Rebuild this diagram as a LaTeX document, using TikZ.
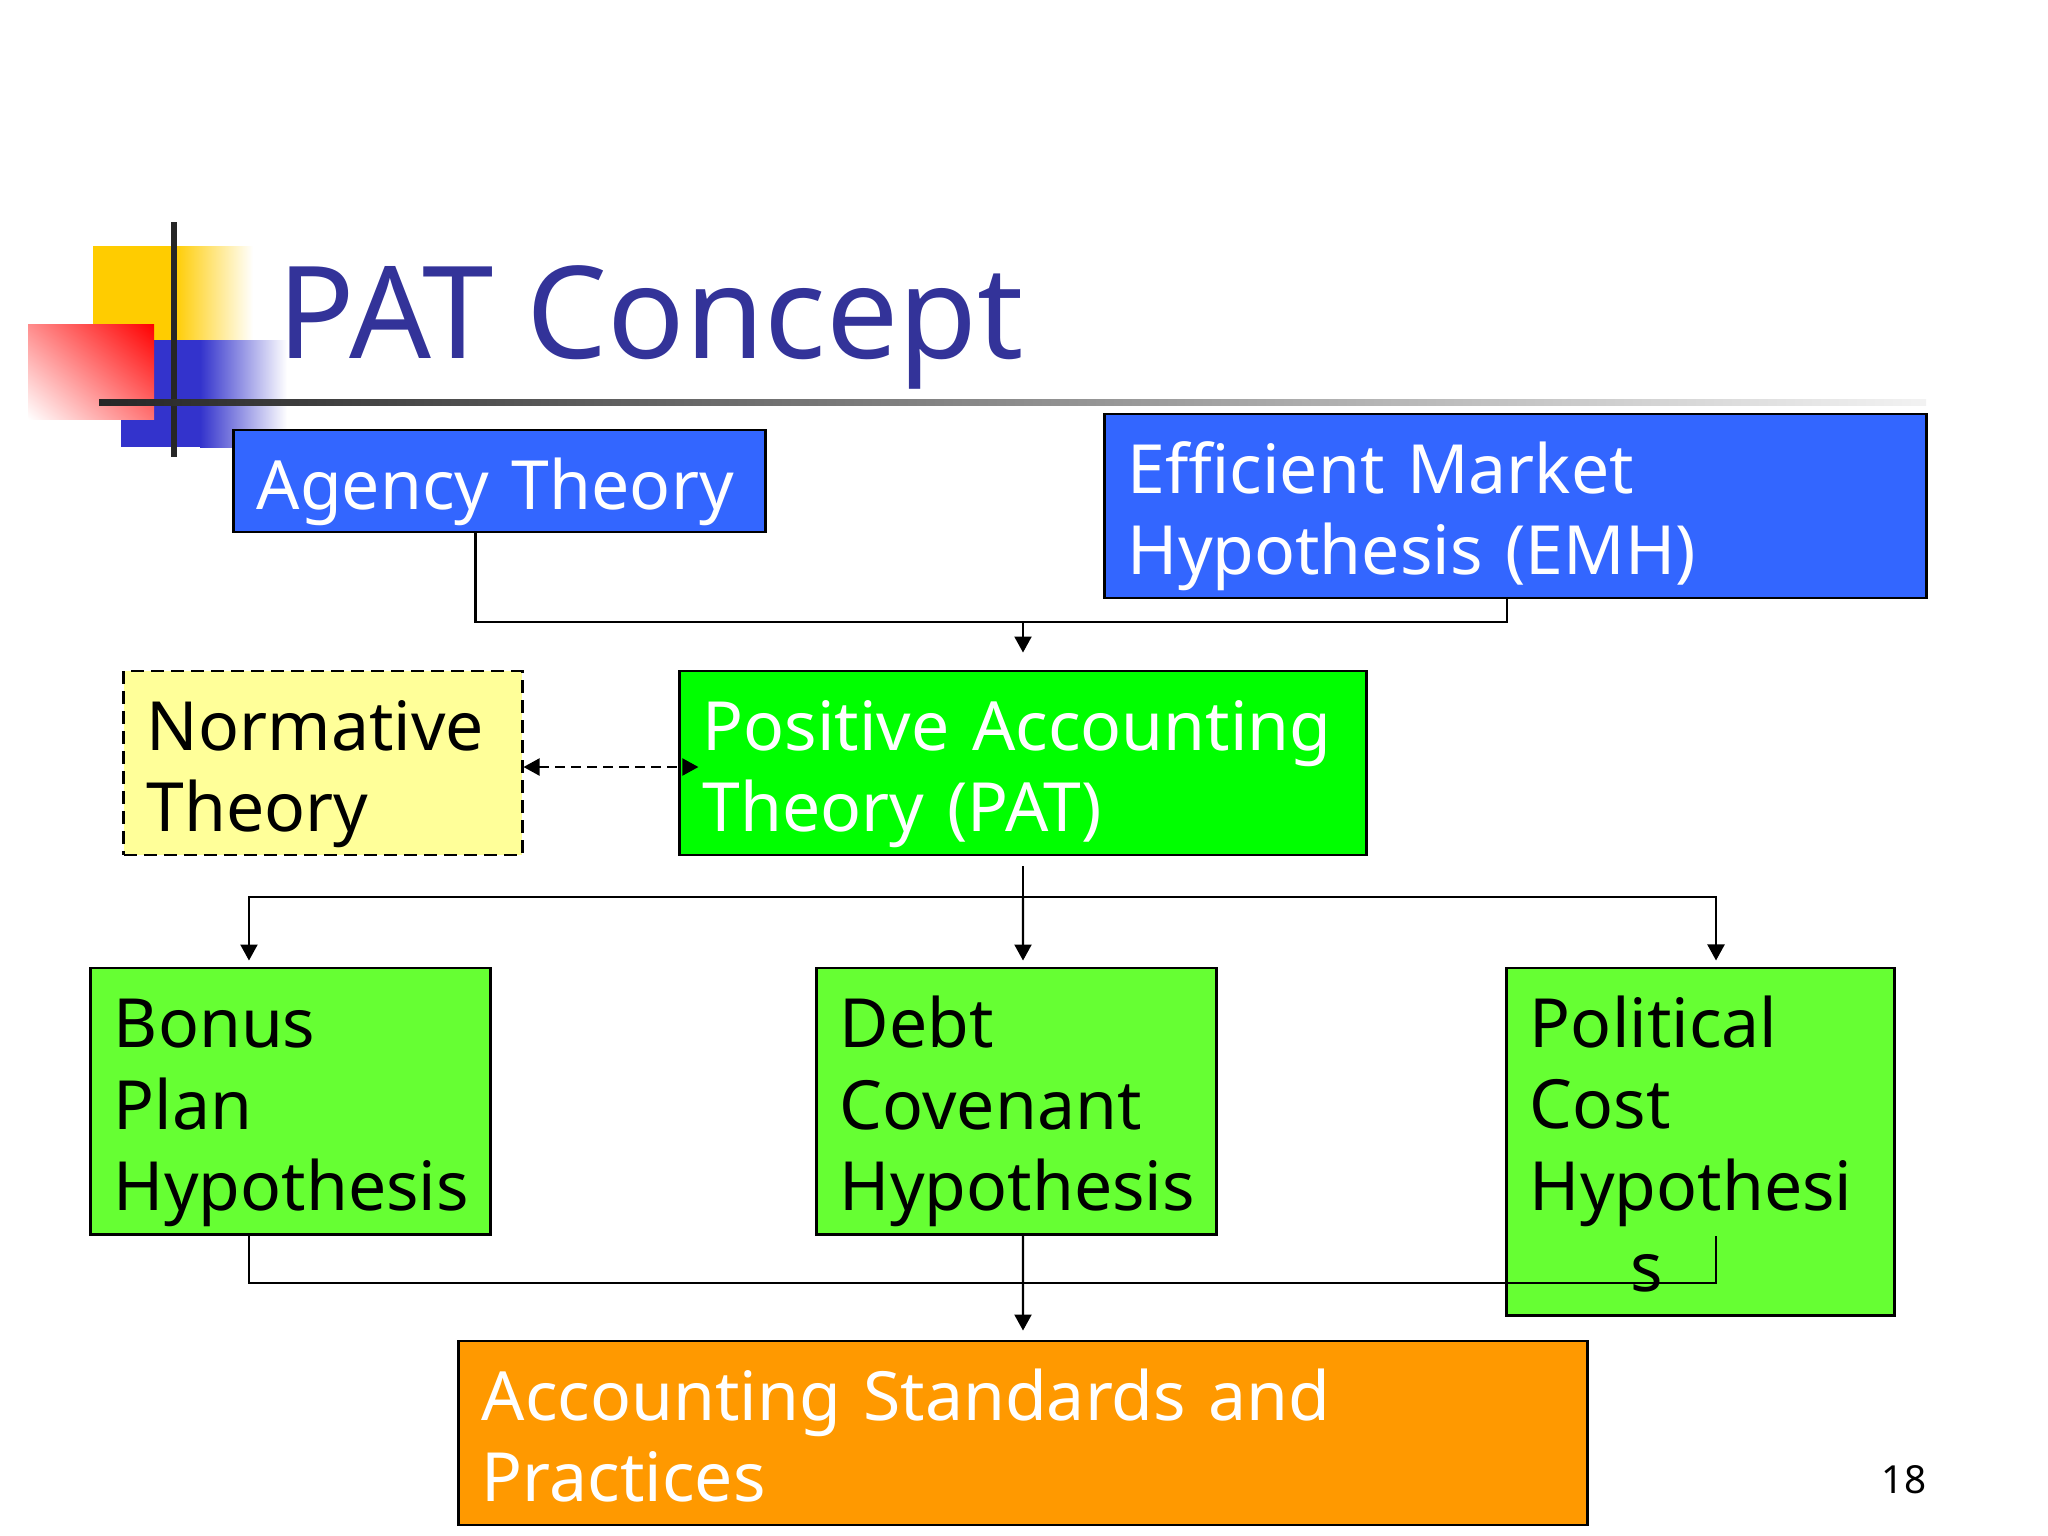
\documentclass[tikz,border=0pt]{standalone}
\usepackage{fontspec}
\setmainfont{Noto Sans}
\usepackage{xcolor}
\usepackage{tikz}
\usetikzlibrary{shapes,arrows,positioning,calc,arrows.meta,shadings}
\definecolor{titleblue}{RGB}{51,51,153}
\definecolor{theoryblue}{RGB}{51,102,255}
\definecolor{patgreen}{RGB}{0,255,0}
\definecolor{hypgreen}{RGB}{102,255,51}
\definecolor{normyellow}{RGB}{255,255,153}
\definecolor{stdorange}{RGB}{255,153,0}
\definecolor{logoyellow}{RGB}{255,204,0}
\definecolor{logoblue}{RGB}{51,51,204}
\newcommand{\firststrut}{\rule{0pt}{0.76cm}}
\newcommand{\laststrut}{\rule[-0.2cm]{0pt}{0pt}}
\tikzstyle{arrow} = [-{Triangle[length=1.6mm,width=1.7mm]}, line width=0.6pt]
\tikzstyle{block} = [rectangle, draw, line width=0.8pt, align=left, inner xsep=0.23cm, inner ysep=0pt,
    font={\fontsize{19.3}{23.2}\selectfont\hyphenpenalty=10000\exhyphenpenalty=10000},
    execute at begin node={\firststrut}, execute at end node={\laststrut}]

\begin{document}
\begin{tikzpicture}[x=0.01cm, y=-0.01cm]
    \useasboundingbox (0,0) rectangle (2048,1536);

    % Logo squares
    \fill[logoyellow] (93,246) rectangle (174,340);
    \shade[left color=logoyellow, right color=white] (174,246) rectangle (253,340);
    \fill[logoblue] (121,340) rectangle (200,447);
    \shade[left color=logoblue, right color=white] (200,340) rectangle (287,447);
    \shade[upper right=red, lower left=white, upper left=red!45, lower right=red!55] (28,324) rectangle (154,419);
    \fill[black!85] (171,222) rectangle (177,457);
    \shade[left color=black!85, middle color=black!70, right color=black!5] (99,399) rectangle (1926,405);

    % Title
    \node[anchor=base west, inner sep=0pt, text=titleblue, font=\fontsize{36.5}{40}\selectfont] (title) at (277,358) {PAT Concept};

    % Theories
    \node[block, fill=theoryblue, text=white, text width=4.85cm, minimum height=1.02cm] (agency) at (499.5,481) {Agency Theory};
    \node[block, fill=theoryblue, text=white, text width=7.75cm, minimum height=1.84cm] (emh) at (1515.5,506) {Efficient Market\\Hypothesis (EMH)};
    \node[block, dash pattern=on 0.13cm off 0.07cm, fill=normyellow, text width=3.52cm, minimum height=1.84cm] (normative) at (323,763) {Normative\\Theory};
    \node[block, fill=patgreen, text=white, text width=6.40cm, minimum height=1.84cm] (pat) at (1023,763) {Positive Accounting\\Theory (PAT)};

    % Hypotheses
    \node[block, fill=hypgreen, text width=3.53cm, minimum height=2.66cm] (bonus) at (290.5,1101) {Bonus\\Plan\\Hypothesis};
    \node[block, fill=hypgreen, text width=3.53cm, minimum height=2.66cm] (debt) at (1016.5,1101) {Debt\\Covenant\\Hypothesis};
    \node[block, fill=hypgreen, text width=3.41cm, minimum height=3.47cm] (political) at (1700.5,1141.5) {Political\\Cost\\Hypothesi\\\hspace*{1.01cm}s};

    % Standards
    \node[block, fill=stdorange, text=white, text width=10.82cm, minimum height=1.84cm] (standards) at (1023,1433) {Accounting Standards and\\Practices};
    \node[font=\fontsize{11}{13}\selectfont] (page) at (1904,1480) {18};

    % Arrows
    \coordinate (join) at (1023,622);
    \draw[line width=0.6pt] ([xshift=-0.24cm]agency.south) |- (join) -| ([xshift=-0.085cm]emh.south);
    \draw[arrow] (join) -- ([yshift=0.17cm]pat.north);
    \draw[{Triangle[length=1.6mm,width=1.7mm]}-{Triangle[length=1.6mm,width=1.7mm]}, line width=0.6pt, dash pattern=on 0.1cm off 0.06cm] ([yshift=-0.04cm]normative.east) -- ([xshift=0.2cm,yshift=-0.04cm]pat.west);

    \coordinate (split) at (1023,897);
    \draw[line width=0.6pt] ([yshift=-0.1cm]pat.south) -- (split);
    \draw[arrow] (split) -| ([xshift=-0.415cm,yshift=0.06cm]bonus.north);
    \draw[arrow] (split) -- ([xshift=0.065cm,yshift=0.06cm]debt.north);
    \draw[arrow] (split) -| ([xshift=0.155cm,yshift=0.06cm]political.north);

    \coordinate (merge) at (1023,1283);
    \draw[line width=0.6pt] ([xshift=-0.415cm]bonus.south) |- (merge) -| ([xshift=0.155cm,yshift=0.8cm]political.south);
    \draw[arrow] ([xshift=0.065cm]debt.south) -- ([yshift=0.09cm]standards.north);
\end{tikzpicture}
\end{document}
